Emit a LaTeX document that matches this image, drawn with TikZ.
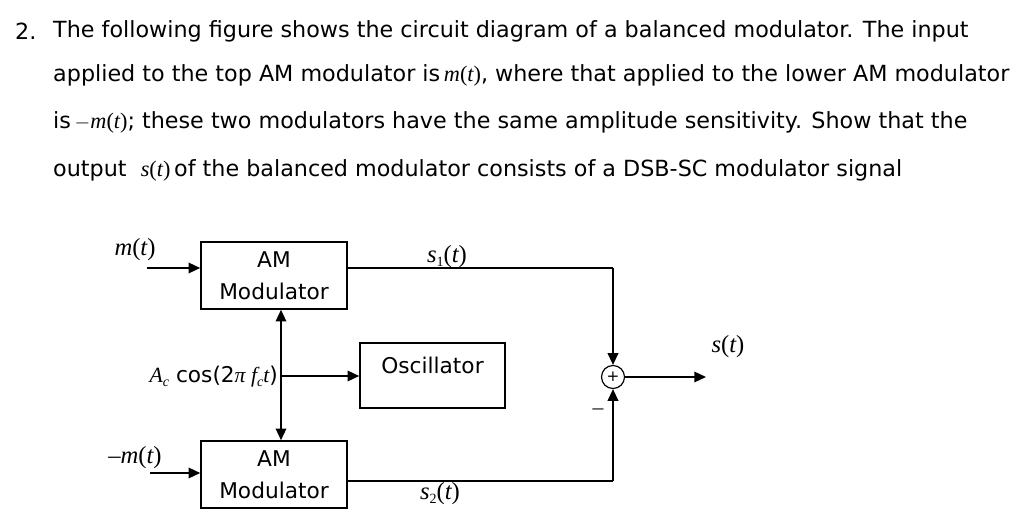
\documentclass[tikz,border=0pt]{standalone}
\usepackage{fontspec}
\setmainfont{DejaVu Sans}
\newfontfamily\tms{Liberation Serif}
\newcommand{\mi}[1]{{\tms\itshape #1}}
\newcommand{\up}[1]{{\tms\upshape #1}}
\newcommand{\sbx}[1]{\raisebox{-0.35ex}{\fontsize{12}{12}\selectfont #1}}
\usetikzlibrary{arrows.meta}
\begin{document}
\begin{tikzpicture}[x=0.03cm,y=-0.03cm,
  txt/.style={anchor=west,inner sep=0,font=\fontsize{19}{22}\selectfont},
  box/.style={draw,line width=1.3pt,inner sep=0},
  lab/.style={inner sep=0,font=\fontsize{18.5}{22}\selectfont},
  mlab/.style={inner sep=0,font=\fontsize{21}{22}\selectfont\tms\itshape},
  arr/.style={line width=1.5pt,-{Triangle[length=10pt,width=9pt]}},
  ln/.style={line width=1.5pt}]
\useasboundingbox (0,0) rectangle (1024,516);
\node[txt] (n2) at (15,31) {2.};
\node[txt] (l1) at (53,31) {The following figure shows the circuit diagram of a balanced modulator. The input};
\node[txt] (l2) at (53,75) {applied to the top AM modulator is\,\mi{m}\up{(}\mi{t}\up{)}, where that applied to the lower AM modulator};
\node[txt] (l3) at (53,122) {is\,$-$\mi{m}\up{(}\mi{t}\up{)}; these two modulators have the same amplitude sensitivity. Show that the};
\node[txt] (l4) at (53,170) {output \ \mi{s}\up{(}\mi{t}\up{)}\,of the balanced modulator consists of a DSB-SC modulator signal};

\node[box,minimum width=146*0.03cm,minimum height=67*0.03cm,align=center,font=\fontsize{18.5}{27}\selectfont] (am1) at (274,275.5) {AM\\Modulator};
\node[box,minimum width=146*0.03cm,minimum height=67*0.03cm,align=center,font=\fontsize{18.5}{27}\selectfont] (am2) at (274,474.5) {AM\\Modulator};
\node[box,minimum width=145*0.03cm,minimum height=65*0.03cm] (osc) at (432.5,375.5) {};
\node[lab] (osct) at (432.5,365) {Oscillator};
\node[draw,line width=1pt,circle,minimum size=23*0.03cm,inner sep=0,font=\fontsize{13}{13}\selectfont] (sum) at (613,377) {+};

\coordinate (min) at (147,268);
\coordinate (mmin) at (150,473);
\coordinate (j) at (281,376);
\coordinate (out) at (706,377);
\coordinate (c1) at (613,268);
\coordinate (c2) at (613,481);

\draw[arr] (min) -- (min -| am1.west);
\draw[arr] (mmin) -- (mmin -| am2.west);
\draw[ln] (am1.east |- c1) -- (c1);
\draw[arr] (c1) -- (sum.north);
\draw[ln] (am2.east |- c2) -- (c2);
\draw[arr] (c2) -- (sum.south);
\draw[arr] (sum.east) -- (out);
\draw[arr] (j) -- (j |- am1.south);
\draw[arr] (j) -- (j |- am2.north);
\draw[arr] (j) -- (osc.west |- j);

\node[mlab] (lm) at (135,250) {m\up{(}t\up{)}};
\node[mlab] (lmm) at (135,458) {\up{–}m\up{(}t\up{)}};
\node[lab,anchor=east] (lac) at (278,377) {\mi{A\sbx{c}} cos(2\mi{π f\sbx{c}t})};
\node[mlab] (ls1) at (447,257) {s\sbx{\upshape 1}\up{(}t\up{)}};
\node[mlab] (ls2) at (440,494) {s\sbx{\upshape 2}\up{(}t\up{)}};
\node[mlab] (ls) at (728,347) {s\up{(}t\up{)}};
\node[lab] (lmin) at (598,412) {\tms –};
\end{tikzpicture}
\end{document}
